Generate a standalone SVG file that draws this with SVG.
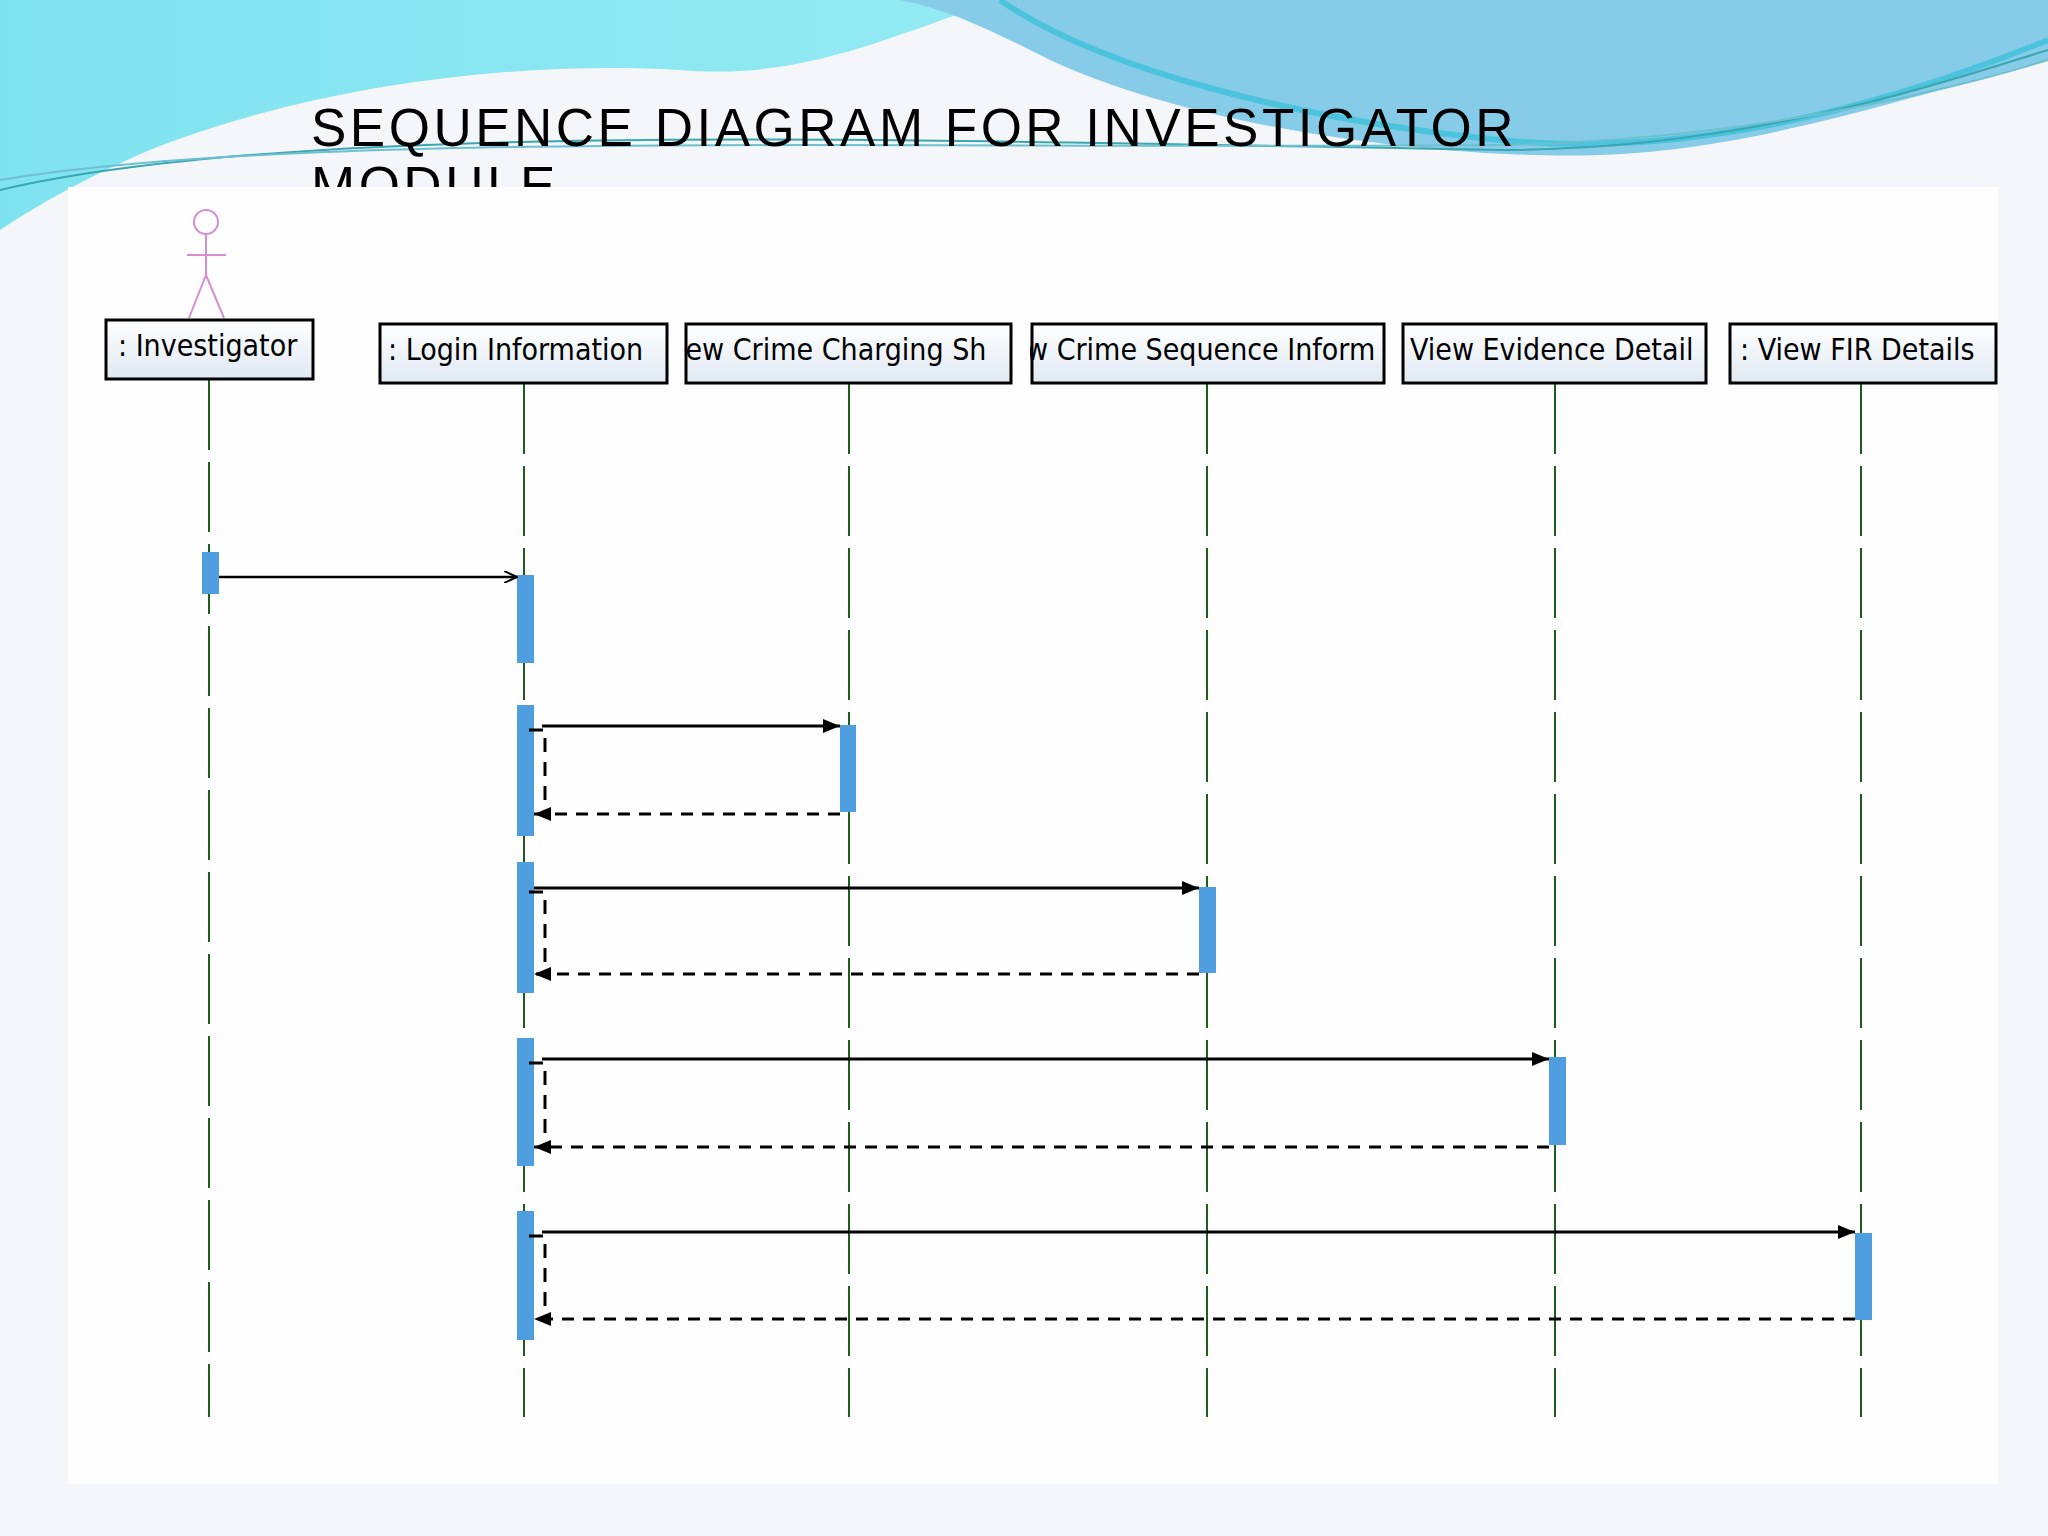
<svg xmlns="http://www.w3.org/2000/svg" width="2048" height="1536" viewBox="0 0 2048 1536">
<defs>
<linearGradient id="bg1" x1="0" y1="0" x2="1" y2="0"><stop offset="0" stop-color="#7fe3ef"/><stop offset="1" stop-color="#93eaf3"/></linearGradient>
<linearGradient id="box" x1="0" y1="0" x2="0" y2="1"><stop offset="0" stop-color="#ffffff"/><stop offset="1" stop-color="#dfe8f2"/></linearGradient>
<marker id="open" markerWidth="14" markerHeight="12" refX="13" refY="6" orient="auto" markerUnits="userSpaceOnUse"><path d="M0,0 L13,6 L0,12" fill="none" stroke="#000" stroke-width="2"/></marker>
<marker id="fill" markerWidth="18" markerHeight="14" refX="17" refY="7" orient="auto" markerUnits="userSpaceOnUse"><path d="M0,0 L17,7 L0,14 Z" fill="#000"/></marker>
</defs>
<style>
.lbl{font-family:"DejaVu Sans Condensed","DejaVu Sans",sans-serif;font-size:30px;fill:#000}
.box{fill:url(#box);stroke:#000;stroke-width:3}
.life{stroke:#1d5e1d;stroke-width:2;stroke-dasharray:70,12;fill:none}
.act{fill:#4f9ee0}
.call{stroke:#000;stroke-width:3;fill:none;marker-end:url(#fill)}
.ret{stroke:#000;stroke-width:3;stroke-dasharray:12,9;fill:none;marker-end:url(#fill)}
.self{stroke:#000;stroke-width:3;stroke-dasharray:14,10;fill:none}
.title{font-family:"Liberation Sans",Arial,sans-serif;font-size:53px;letter-spacing:3.5px;fill:#000}
</style>
<rect width="2048" height="1536" fill="#f4f6fa"/>
<path d="M0,0 H1000 C880,40 800,80 680,70 C500,60 300,90 150,150 C80,180 30,210 0,230 Z" fill="url(#bg1)"/>
<path d="M900,0 H2048 V60 C1900,100 1750,150 1600,155 C1450,160 1200,130 1050,60 C990,30 950,10 900,0 Z" fill="#86cce9"/>
<path d="M1000,0 C1100,70 1300,120 1500,140 C1700,160 1900,100 2048,40" fill="none" stroke="#4cc3dd" stroke-width="6"/>
<path d="M0,190 C300,120 900,140 1500,150 C1750,150 1950,80 2048,50" fill="none" stroke="#3aa6b0" stroke-width="2"/>
<path d="M0,180 C300,130 900,150 1500,145 C1750,140 1950,90 2048,60" fill="none" stroke="#6cc0cf" stroke-width="2"/>
<text class="title" x="311" y="146">SEQUENCE DIAGRAM FOR INVESTIGATOR</text>
<text class="title" x="311" y="204">MODULE</text>
<rect x="68" y="187" width="1930" height="1297" fill="#fefefe"/>
<g id="connectors">
<line class="life" x1="209" y1="380" x2="209" y2="1417"/>
<line class="life" x1="524" y1="384" x2="524" y2="1417"/>
<line class="life" x1="849" y1="384" x2="849" y2="1417"/>
<line class="life" x1="1207" y1="384" x2="1207" y2="1417"/>
<line class="life" x1="1555" y1="384" x2="1555" y2="1417"/>
<line class="life" x1="1861" y1="384" x2="1861" y2="1417"/>
<rect class="act" x="202" y="552" width="17" height="42"/>
<rect class="act" x="517" y="575" width="17" height="88"/>
<rect class="act" x="517" y="705" width="17" height="131"/>
<rect class="act" x="517" y="862" width="17" height="131"/>
<rect class="act" x="517" y="1038" width="17" height="128"/>
<rect class="act" x="517" y="1211" width="17" height="129"/>
<rect class="act" x="840" y="725" width="16" height="87"/>
<rect class="act" x="1199" y="887" width="17" height="86"/>
<rect class="act" x="1549" y="1057" width="17" height="88"/>
<rect class="act" x="1855" y="1233" width="17" height="87"/>
<line x1="219" y1="577" x2="517" y2="577" stroke="#000" stroke-width="2.5" marker-end="url(#open)"/>
<line class="call" x1="542" y1="726" x2="840" y2="726"/>
<line class="call" x1="534" y1="888" x2="1199" y2="888"/>
<line class="call" x1="542" y1="1059" x2="1549" y2="1059"/>
<line class="call" x1="542" y1="1232" x2="1855" y2="1232"/>
<line class="ret" x1="840" y1="814" x2="534" y2="814"/>
<line class="ret" x1="1199" y1="974" x2="534" y2="974"/>
<line class="ret" x1="1549" y1="1147" x2="534" y2="1147"/>
<line class="ret" x1="1855" y1="1319" x2="534" y2="1319"/>
<path class="self" d="M529,730 H545 V812"/>
<path class="self" d="M529,892 H545 V972"/>
<path class="self" d="M529,1063 H545 V1145"/>
<path class="self" d="M529,1236 H545 V1317"/>
</g>
<g id="actor" stroke="#d58ed5" stroke-width="2" fill="none">
<circle cx="206" cy="222" r="12"/>
<line x1="206" y1="234" x2="206" y2="275"/>
<line x1="187" y1="255" x2="226" y2="255"/>
<line x1="206" y1="275" x2="189" y2="318"/>
<line x1="206" y1="275" x2="224" y2="318"/>
</g>
<g id="n-investigator"><rect class="box" x="106" y="320" width="207" height="59"/><text class="lbl" x="118" y="356">: Investigator</text></g>
<g id="n-login"><rect class="box" x="380" y="324" width="287" height="59"/><text class="lbl" x="388" y="360">: Login Information</text></g>
<svg x="684" y="322" width="329" height="63"><g id="n-charging"><rect class="box" x="2" y="2" width="325" height="59"/><text class="lbl" x="-6" y="38">iew Crime Charging Sh</text></g></svg>
<svg x="1030" y="322" width="356" height="63"><g id="n-sequence"><rect class="box" x="2" y="2" width="352" height="59"/><text class="lbl" x="-4" y="38">w Crime Sequence Inform</text></g></svg>
<g id="n-evidence"><rect class="box" x="1403" y="324" width="303" height="59"/><text class="lbl" x="1410" y="360">View Evidence Detail</text></g>
<g id="n-fir"><rect class="box" x="1730" y="324" width="266" height="59"/><text class="lbl" x="1740" y="360">: View FIR Details</text></g>
</svg>
